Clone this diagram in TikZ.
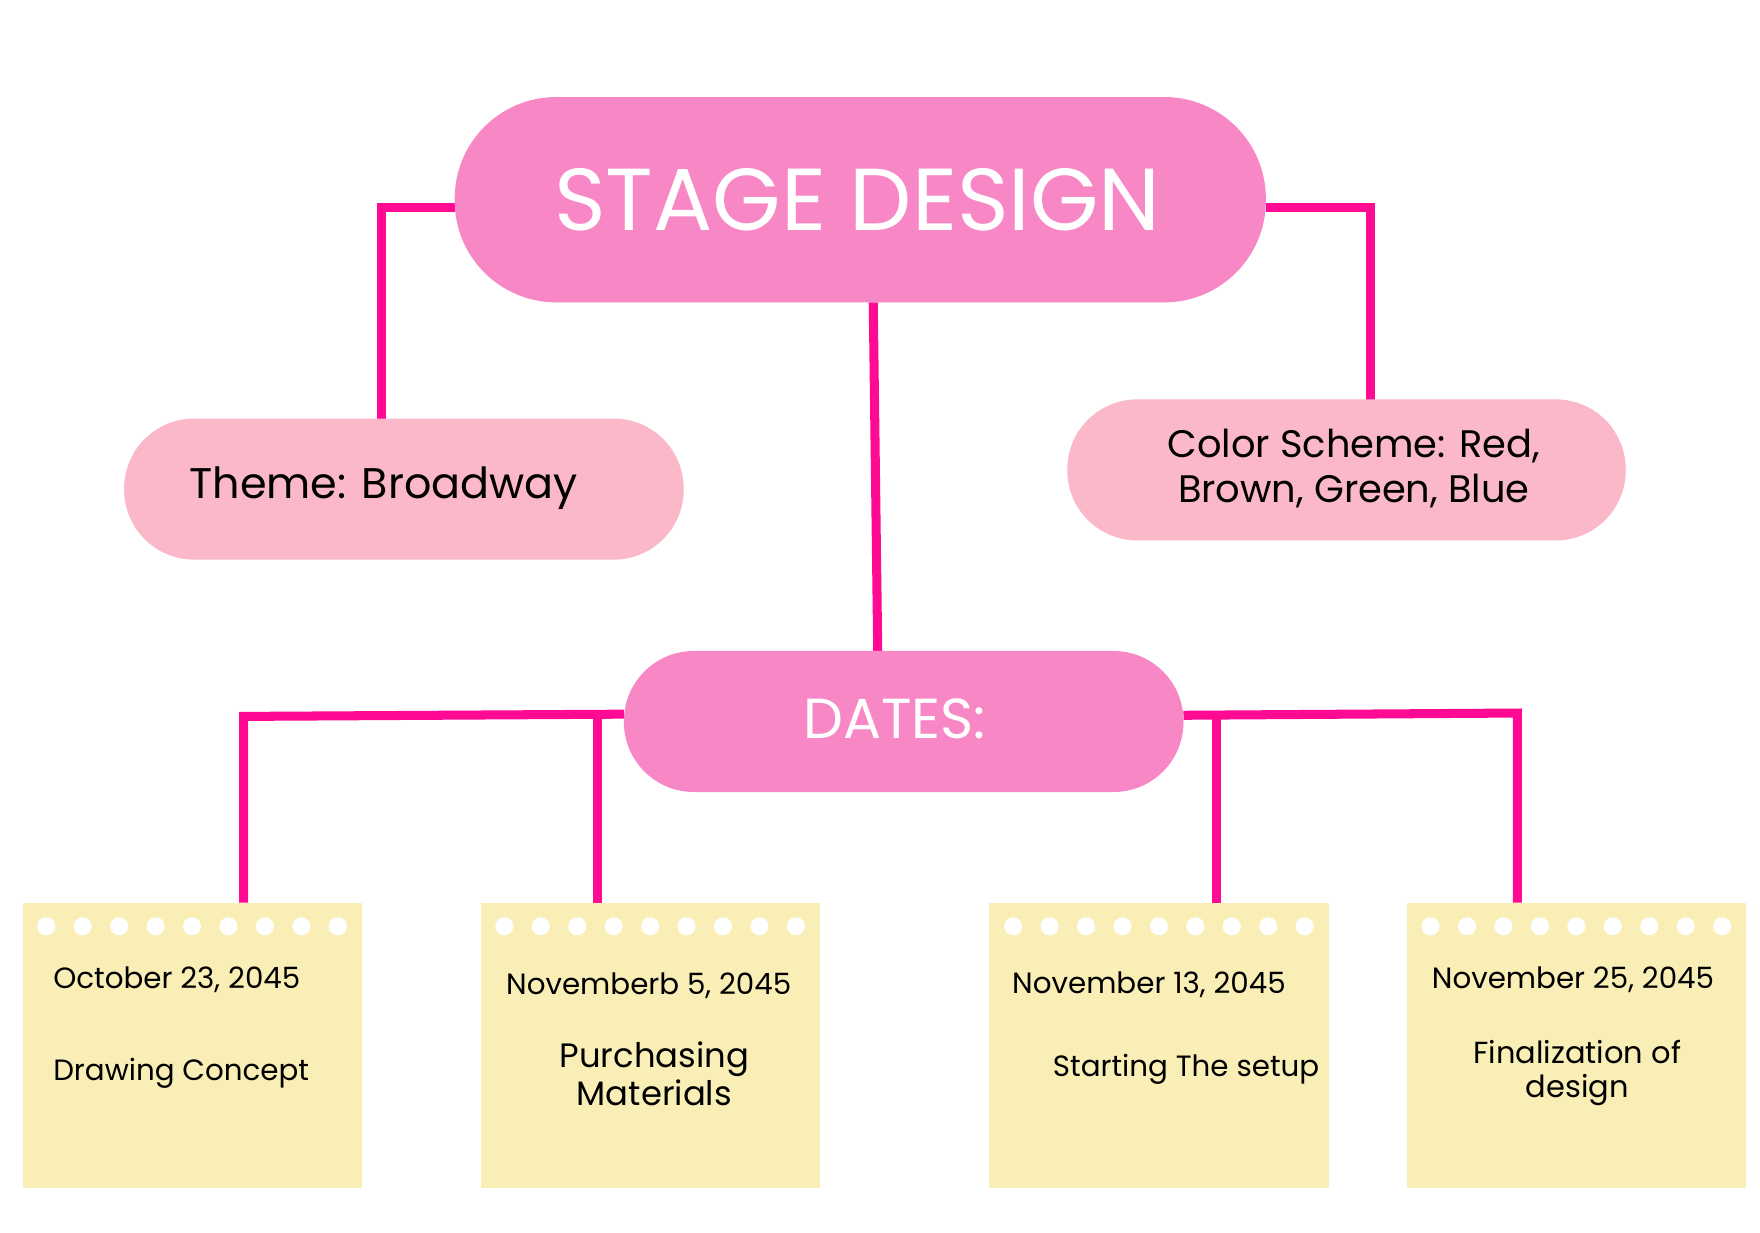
\documentclass[tikz,border=0pt]{standalone}
\usepackage{fontspec}
\setmainfont{Poppins}
\definecolor{pinkA}{HTML}{F888C5}
\definecolor{pinkB}{HTML}{FBB8C8}
\definecolor{mag}{HTML}{FF0A93}
\definecolor{note}{HTML}{F9EFB6}
\begin{document}
\begin{tikzpicture}[x=1pt,y=-1pt,
 pill/.style={rounded corners=62pt,inner sep=0pt},
 con/.style={draw=mag,line width=8pt},
 nt/.style={fill=note},
 txt/.style={inner sep=0pt,font=\fontsize{26}{34}\selectfont}]
\useasboundingbox[fill=white] (0,0) rectangle (1560,1092);
% connectors
\draw[con] (403,184) -- (338,184) -- (338,372);
\draw[con] (1122,184) -- (1215,184) -- (1215,355);
\draw[con] (774,268) -- (778,578);
\draw[con] (553,633) -- (216,635) -- (216,800);
\draw[con] (530,633) -- (530,800);
\draw[con] (1049,634) -- (1345,632) -- (1345,800);
\draw[con] (1078,634) -- (1078,800);
% pills
\fill[pinkA,rounded corners=90pt] (403,86) rectangle (1122,268);
\node[inner sep=0pt,white,font=\fontsize{78}{80}\selectfont] (sd) at (760,177) {STAGE DESIGN};
\fill[pinkB,pill] (110,371) rectangle (606,496);
\node[inner sep=0pt,font=\fontsize{38}{46}\selectfont] (th) at (340,433) {Theme: Broadway};
\fill[pinkB,pill] (946,354) rectangle (1441,479);
\node[inner sep=0pt,align=center,font=\fontsize{34}{40}\selectfont] (cs) at (1200,415) {Color Scheme: Red,\\Brown, Green, Blue};
\fill[pinkA,pill] (553,577) rectangle (1049,702);
\node[inner sep=0pt,white,font=\fontsize{50}{56}\selectfont] (dt) at (793,637) {DATES:};
% notes
\foreach \x/\n in {20/a,426/b,877/c,1247/d}{
 \fill[nt] (\x,800) rectangle ++(301,253);
 \foreach \i in {0,...,8} \fill[white] (\x+21+\i*32.3,821) circle (8);
}
\node[txt,anchor=west] (a1) at (47,868) {October 23, 2045};
\node[txt,anchor=west] (a2) at (47,951) {Drawing Concept};
\node[txt] (b1) at (575,874) {Novemberb 5, 2045};
\node[txt,align=center,font=\fontsize{30}{34}\selectfont] (b2) at (580,952) {Purchasing\\Materials};
\node[txt,anchor=west] (c1) at (897,873) {November 13, 2045};
\node[txt,anchor=west] (c2) at (933,948) {Starting The setup};
\node[txt,anchor=west] (d1) at (1269,868) {November 25, 2045};
\node[txt,align=center,font=\fontsize{27}{30}\selectfont] (d2) at (1398,951) {Finalization of\\design};
\end{tikzpicture}
\end{document}
